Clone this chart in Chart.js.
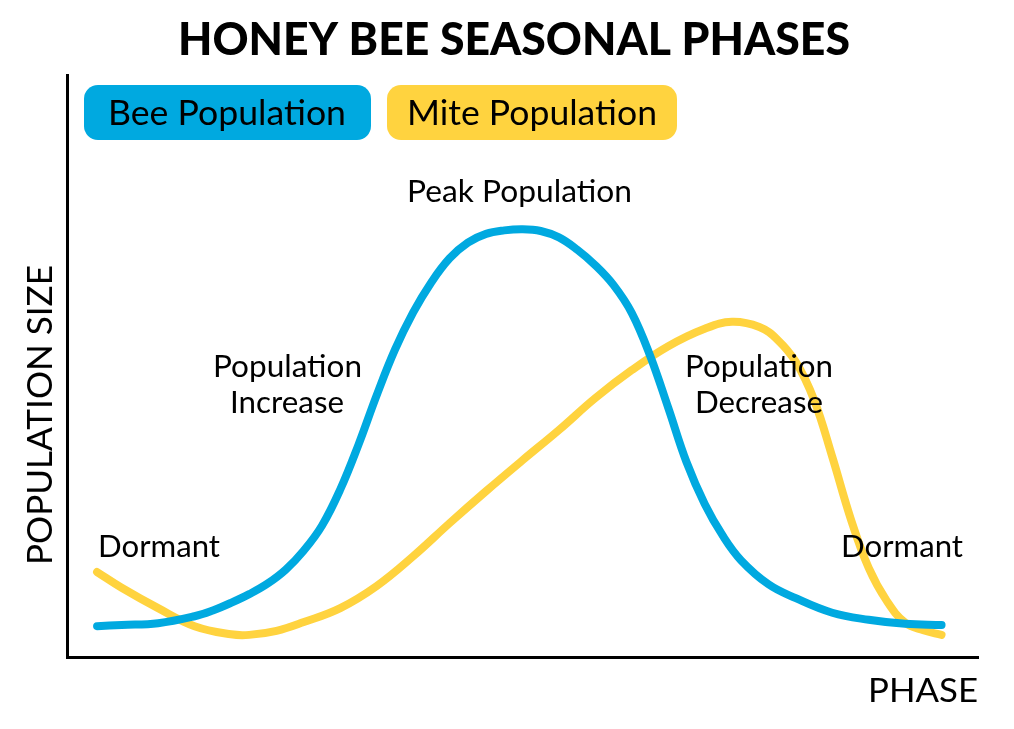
<!DOCTYPE html>
<html>
<head>
<meta charset="utf-8">
<script src="https://cdn.jsdelivr.net/npm/chart.js@4"></script>
<style>
  html, body { margin: 0; padding: 0; background: #fff; }
  #wrap { width: 1014px; height: 729px; }
</style>
</head>
<body>
<div id="wrap"><canvas id="bees"></canvas></div>
<script>
const chartTitle = 'HONEY BEE SEASONAL PHASES';
const seriesNames = ['Bee Population', 'Mite Population'];
const xAxisLabel = 'PHASE';
const yAxisLabel = 'POPULATION SIZE';
const phaseNotes = [['Dormant'], ['Population', 'Increase'], ['Peak Population'], ['Population', 'Decrease'], ['Dormant']];

// phase and size both on a 0-100 scale
const beePhase = [3.3, 6, 10, 14, 16, 18, 20, 22, 24, 26, 28, 30, 32, 34, 36, 38, 40, 42, 44, 46, 48, 50,
                  52, 54, 56, 58, 60, 62, 64, 66, 68, 70, 72, 74, 77, 80, 84, 88, 92, 96];
const beeSize  = [5.3, 5.5, 5.8, 7.0, 8.0, 9.3, 10.8, 12.6, 15.0, 18.3, 22.6, 28.8, 36.5, 45.0, 52.8,
                  59.2, 64.4, 68.5, 71.2, 72.7, 73.3, 73.5, 73.2, 72.1, 70.0, 67.3, 63.9, 59.1, 51.8,
                  42.8, 33.5, 26.3, 20.8, 16.6, 12.5, 10.1, 7.6, 6.4, 5.7, 5.5];
const mitePhase = [3.3, 6, 10, 14, 18, 20, 23, 26, 30, 34, 38, 42, 46, 50, 54, 58, 62, 66, 70, 73,
                   76, 78, 80, 82, 84, 86, 88, 90, 92, 94, 96];
const miteSize  = [14.6, 11.9, 8.4, 5.3, 3.9, 3.8, 4.5, 6.0, 8.4, 12.2, 17.3, 23.0, 28.5, 33.8, 39.0,
                   44.5, 49.3, 53.4, 56.4, 57.6, 56.7, 54.5, 50.7, 44.2, 34.4, 23.9, 15.3, 9.6, 5.9,
                   4.6, 3.8];

const BLUE = '#00A9E0';
const YELLOW = '#FFD33F';

function pts(xs, ys) {
  return xs.map((x, i) => ({x: x, y: ys[i]}));
}

// draw text so its left edge, baseline, width and cap height match the picture
function fitText(ctx, text, x, baseline, width, cap, weight) {
  ctx.font = weight + ' ' + (cap / 0.72).toFixed(1) + 'px Lato, "DejaVu Sans", sans-serif';
  const w = ctx.measureText(text).width;
  ctx.save();
  ctx.translate(x, baseline);
  ctx.scale(width / w, 1);
  ctx.textAlign = 'left';
  ctx.textBaseline = 'alphabetic';
  ctx.fillStyle = '#000';
  ctx.fillText(text, 0, 0);
  ctx.restore();
}

const decorations = {
  id: 'decorations',
  afterDatasetsDraw(chart) {
    const ctx = chart.ctx;

    fitText(ctx, chartTitle, 178, 55, 672, 33, '900');

    // legend pills
    ctx.fillStyle = BLUE;
    ctx.beginPath(); ctx.roundRect(84, 85, 287, 55, 14); ctx.fill();
    ctx.fillStyle = YELLOW;
    ctx.beginPath(); ctx.roundRect(387, 85, 290, 55, 14); ctx.fill();
    fitText(ctx, seriesNames[0], 108, 125, 238, 25, '400');
    fitText(ctx, seriesNames[1], 407, 125, 250, 25, '400');

    // phase notes
    fitText(ctx, phaseNotes[0][0], 98, 557, 122, 22, '400');
    fitText(ctx, phaseNotes[1][0], 213, 377, 149, 22, '400');
    fitText(ctx, phaseNotes[1][1], 230, 413, 114, 22, '400');
    fitText(ctx, phaseNotes[2][0], 407, 202, 225, 22, '400');
    fitText(ctx, phaseNotes[3][0], 685, 377, 148, 22, '400');
    fitText(ctx, phaseNotes[3][1], 695, 413, 128, 22, '400');
    fitText(ctx, phaseNotes[4][0], 841, 557, 122, 22, '400');

    // axis labels
    fitText(ctx, xAxisLabel, 868, 702, 110, 24, '400');
    ctx.save();
    ctx.translate(52, 565);
    ctx.rotate(-Math.PI / 2);
    fitText(ctx, yAxisLabel, 0, 0, 300, 25, '400');
    ctx.restore();
  }
};

const axisStyle = {
  type: 'linear',
  min: 0,
  max: 100,
  grid: { display: false, drawTicks: false },
  ticks: { display: false },
  border: { display: true, color: '#000', width: 3 }
};

new Chart(document.getElementById('bees'), {
  type: 'line',
  data: {
    datasets: [{
      label: seriesNames[0],
      data: pts(beePhase, beeSize),
      borderColor: BLUE,
      borderWidth: 8,
      borderCapStyle: 'round',
      borderJoinStyle: 'round',
      pointRadius: 0,
      tension: 0.4,
      fill: false
    }, {
      label: seriesNames[1],
      data: pts(mitePhase, miteSize),
      borderColor: YELLOW,
      borderWidth: 8,
      borderCapStyle: 'round',
      borderJoinStyle: 'round',
      pointRadius: 0,
      tension: 0.4,
      fill: false
    }]
  },
  options: {
    responsive: true,
    maintainAspectRatio: false,
    animation: false,
    layout: { padding: { left: 67, right: 36, top: 75, bottom: 72 } },
    plugins: {
      legend: { display: false },
      title: { display: false },
      tooltip: { enabled: false }
    },
    scales: {
      x: axisStyle,
      y: Object.assign({}, axisStyle)
    }
  },
  plugins: [decorations]
});
</script>
</body>
</html>
